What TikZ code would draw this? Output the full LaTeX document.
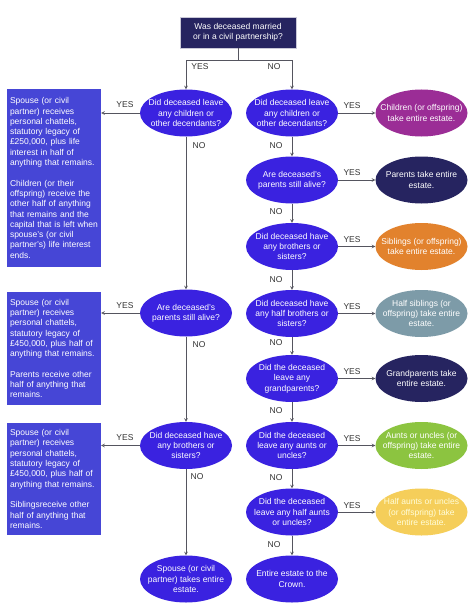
\documentclass[tikz,border=0pt]{standalone}
\usepackage{fontspec}
\setmainfont{Liberation Sans}
\usepackage{tikz}
\usetikzlibrary{shapes.geometric}
\definecolor{qblue}{RGB}{58,34,224}
\definecolor{noteblue}{RGB}{70,70,214}
\definecolor{navy}{RGB}{38,36,96}
\definecolor{plum}{RGB}{155,45,150}
\definecolor{orng}{RGB}{226,130,45}
\definecolor{greyblue}{RGB}{125,155,168}
\definecolor{lgreen}{RGB}{140,196,64}
\definecolor{lyellow}{RGB}{245,206,90}
\definecolor{linegrey}{RGB}{85,85,95}

\begin{document}
\begin{tikzpicture}[x=1pt,y=-1pt,
  every node/.style={font=\fontsize{8.5}{10.3}\selectfont},
  topbox/.style={rectangle, fill=navy, draw=white!75!navy, text=white, align=center,
    minimum width=116, minimum height=31, inner sep=0},
  quest/.style={ellipse, fill=qblue, text=white, align=center,
    minimum width=92, minimum height=47, inner xsep=-12pt, inner ysep=-2pt},
  result/.style={quest, fill=#1},
  note/.style={rectangle, fill=noteblue, text=white, align=left,
    text width=88, inner xsep=3, inner ysep=0, minimum height=#1,
    execute at begin node={\hyphenpenalty=10000\relax}},
  arr/.style={draw=linegrey, semithick, -stealth},
  lbl/.style={text=black!80, inner sep=1}]
  \useasboundingbox (0,0) rectangle (474,615);
  \fill[white] (0,0) rectangle (474,615);

  \node[topbox] at (238,32.5) (start) {Was deceased married\\or in a civil partnership?};
  \coordinate (split) at (238,60);

  \node[quest] at (186,113) (ql1) {Did deceased leave\\any children or\\other decendants?};
  \node[quest] at (186,313) (ql2) {Are deceased's\\parents still alive?};
  \node[quest] at (186,445.5) (ql3) {Did deceased have\\any brothers or\\sisters?};
  \node[quest] at (186,579) (spouse) {Spouse (or civil\\partner) takes entire\\estate.};

  \node[quest] at (292,113) (qr1) {Did deceased leave\\any children or\\other decendants?};
  \node[quest] at (292,180) (qr2) {Are deceased's\\parents still alive?};
  \node[quest] at (292,246.5) (qr3) {Did deceased have\\any brothers or\\sisters?};
  \node[quest] at (292,313.5) (qr4) {Did deceased have\\any half brothers or\\sisters?};
  \node[quest] at (292,378.5) (qr5) {Did the deceased\\leave any\\grandparents?};
  \node[quest] at (292,445.5) (qr6) {Did the deceased\\leave any aunts or\\uncles?};
  \node[quest] at (292,512) (qr7) {Did the deceased\\leave any half aunts\\or uncles?};
  \node[quest] at (292,579) (crown) {Entire estate to the\\Crown.};

  \node[result=plum] at (421.5,113) (r1) {Children (or offspring)\\take entire estate.};
  \node[result=navy] at (421.5,180) (r2) {Parents take entire\\estate.};
  \node[result=orng] at (421.5,246.5) (r3) {Siblings (or offspring)\\take entire estate.};
  \node[result=greyblue] at (421.5,313.5) (r4) {Half siblings (or\\offspring) take entire\\estate.};
  \node[result=navy] at (421.5,378.5) (r5) {Grandparents take\\entire estate.};
  \node[result=lgreen] at (421.5,445.5) (r6) {Aunts or uncles (or\\offspring) take entire\\estate.};
  \node[result=lyellow, text=yellow!15] at (421.5,512) (r7) {Half aunts or uncles\\(or offspring) take\\entire estate.};

  \node[note=178] at (54,178) (sp1) {Spouse (or civil\\partner) receives\\personal chattels,\\statutory legacy of\\\pounds250,000, plus life\\interest in half of\\anything that remains.\\[10.3pt]Children (or their\\offspring) receive the\\other half of anything\\that remains and the\\\mbox{capital that is left when}\\spouse's (or civil\\partner's) life interest\\ends.};
  \node[note=113] at (54,348.5) (sp2) {Spouse (or civil\\partner) receives\\personal chattels,\\statutory legacy of\\\pounds450,000, plus half of\\anything that remains.\\[10.3pt]Parents receive other\\half of anything that\\remains.};
  \node[note=112] at (54,479) (sp3) {Spouse (or civil\\partner) receives\\personal chattels,\\statutory legacy of\\\pounds450,000, plus half of\\anything that remains.\\[10.3pt]Siblingsreceive other\\half of anything that\\remains.};

  \draw[draw=linegrey, semithick] (start.south) -- (split);
  \draw[arr] (split) -| (ql1.north);
  \draw[arr] (split) -| (qr1.north);
  \node[lbl] at (200,67) (ys0) {YES};
  \node[lbl] at (274,67) (no0) {NO};

  \draw[arr] (ql1.west) -- (sp1.east |- ql1.west);
  \draw[arr] (ql2.west) -- (sp2.east |- ql2.west);
  \draw[arr] (ql3.west) -- (sp3.east |- ql3.west);
  \node[lbl] at (125,105) (ysl1) {YES};
  \node[lbl] at (125,306) (ysl2) {YES};
  \node[lbl] at (125,438) (ysl3) {YES};

  \draw[arr] (ql1.south) -- (ql2.north);
  \draw[arr] (ql2.south) -- (ql3.north);
  \draw[arr] (ql3.south) -- (spouse.north);
  \node[lbl] at (199,146) (nol1) {NO};
  \node[lbl] at (199,345) (nol2) {NO};
  \node[lbl] at (197,477) (nol3) {NO};

  \draw[arr] (qr1.east) -- (r1.west);
  \draw[arr] (qr2.east) -- (r2.west);
  \draw[arr] (qr3.east) -- (r3.west);
  \draw[arr] (qr4.east) -- (r4.west);
  \draw[arr] (qr5.east) -- (r5.west);
  \draw[arr] (qr6.east) -- (r6.west);
  \draw[arr] (qr7.east) -- (r7.west);
  \node[lbl] at (352,106) (ysr1) {YES};
  \node[lbl] at (352,173) (ysr2) {YES};
  \node[lbl] at (352,240) (ysr3) {YES};
  \node[lbl] at (352,307) (ysr4) {YES};
  \node[lbl] at (352,372) (ysr5) {YES};
  \node[lbl] at (352,439) (ysr6) {YES};
  \node[lbl] at (352,506) (ysr7) {YES};

  \draw[arr] (qr1.south) -- (qr2.north);
  \draw[arr] (qr2.south) -- (qr3.north);
  \draw[arr] (qr3.south) -- (qr4.north);
  \draw[arr] (qr4.south) -- (qr5.north);
  \draw[arr] (qr5.south) -- (qr6.north);
  \draw[arr] (qr6.south) -- (qr7.north);
  \draw[arr] (qr7.south) -- (crown.north);
  \node[lbl] at (276,146) (nor1) {NO};
  \node[lbl] at (276,212) (nor2) {NO};
  \node[lbl] at (276,280) (nor3) {NO};
  \node[lbl] at (276,343) (nor4) {NO};
  \node[lbl] at (276,411) (nor5) {NO};
  \node[lbl] at (276,478) (nor6) {NO};
  \node[lbl] at (274,545) (nor7) {NO};
\end{tikzpicture}
\end{document}
